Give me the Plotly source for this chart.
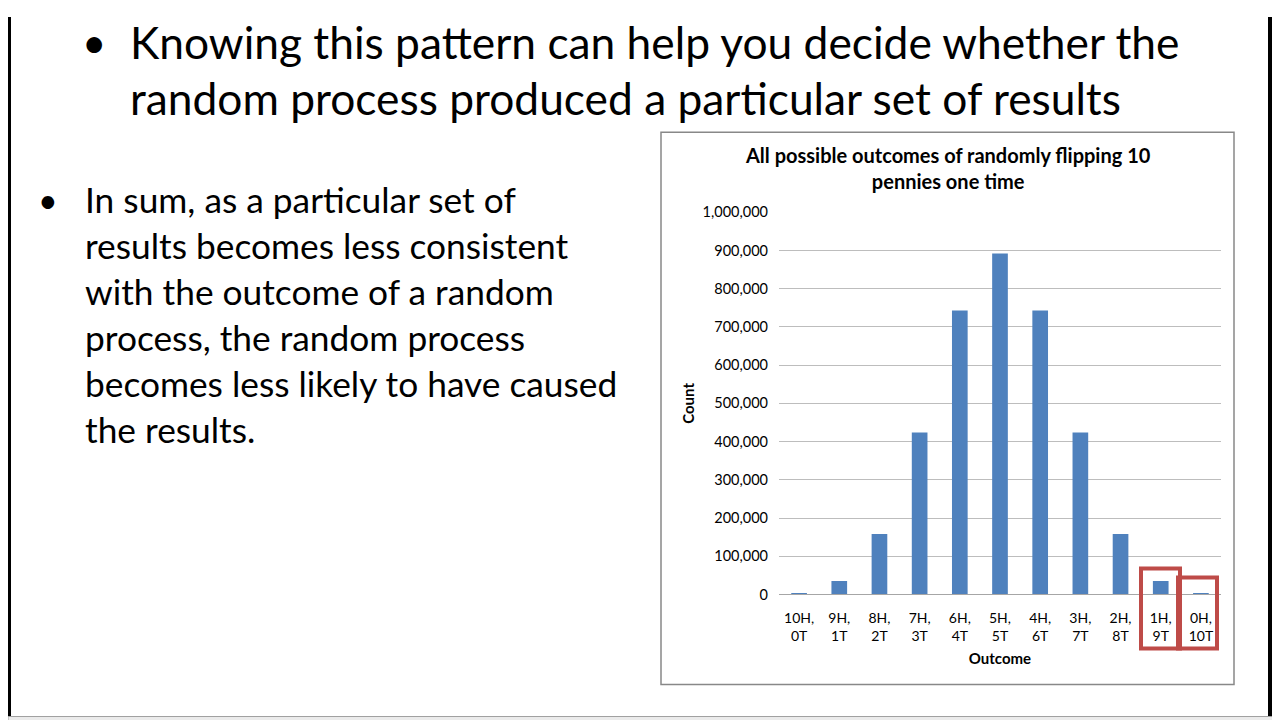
import plotly.graph_objects as go

# chart data
outcomes = ["10H,<br>0T", "9H,<br>1T", "8H,<br>2T", "7H,<br>3T", "6H,<br>4T", "5H,<br>5T",
            "4H,<br>6T", "3H,<br>7T", "2H,<br>8T", "1H,<br>9T", "0H,<br>10T"]
counts = [3500, 35500, 158000, 424000, 743000, 892000, 743000, 424000, 158000, 35500, 3500]
y_ticks = [0, 100000, 200000, 300000, 400000, 500000, 600000, 700000, 800000, 900000, 1000000]

top_lines = ["Knowing this pattern can help you decide whether the",
             "random process produced a particular set of results"]
side_lines = ["In sum, as a particular set of",
              "results becomes less consistent",
              "with the outcome of a random",
              "process, the random process",
              "becomes less likely to have caused",
              "the results."]

# the page keeps an 8px body margin; the screenshot is slightly squashed
# vertically, so slide pixel positions are mapped through px/py below
W, H = 1272, 722
OFF = 8
SY, CY = 0.976, 9.0
FONT = "Lato"


def px(x):
    return (x - OFF) / W


def py(y):
    page = (y - CY) / SY
    return 1 - (page - OFF) / H


fig = go.Figure(
    data=[
        go.Bar(
            x=outcomes,
            y=counts,
            marker=dict(color="#4F81BD", line=dict(width=0)),
            hoverinfo="x+y",
        )
    ]
)

fig.update_layout(
    width=W,
    height=H,
    margin=dict(l=0, r=0, t=0, b=0),
    paper_bgcolor="white",
    plot_bgcolor="white",
    showlegend=False,
    bargap=0.61,
    font=dict(family=FONT, color="#000000"),
    xaxis=dict(
        domain=[px(779), px(1221)],
        tickfont=dict(size=14, color="#000000"),
        ticklabelstandoff=11,
        showgrid=False,
        showline=True,
        linecolor="#A6A6A6",
        linewidth=1,
        ticks="",
        title=dict(text="<b>Outcome</b>", font=dict(size=15), standoff=10),
    ),
    yaxis=dict(
        domain=[py(594), py(212)],
        range=[0, 1000000],
        tickvals=y_ticks,
        tickformat=",d",
        tickfont=dict(size=14.5, color="#000000"),
        ticklabelstandoff=10,
        showgrid=True,
        gridcolor="#BDBDBD",
        gridwidth=1,
        zeroline=False,
        showline=False,
        ticks="",
        title=dict(text="<b>Count</b>", font=dict(size=15), standoff=4),
    ),
)

annotations = []
# chart title
annotations.append(dict(
    x=px(948), y=py(168), xref="paper", yref="paper",
    text="<b>All possible outcomes of randomly flipping 10<br>pennies one time</b>",
    showarrow=False, xanchor="center", yanchor="middle",
    font=dict(family=FONT, size=20, color="#000000"),
))

# top bullet
annotations.append(dict(
    x=px(80), y=py(42), xref="paper", yref="paper", text="•", showarrow=False,
    xanchor="left", yanchor="middle", font=dict(family=FONT, size=42, color="#000000"),
))
for i, line in enumerate(top_lines):
    annotations.append(dict(
        x=px(128), y=py(41 + i * 56), xref="paper", yref="paper", text=line,
        showarrow=False, xanchor="left", yanchor="middle",
        font=dict(family=FONT, size=44.3, color="#000000"),
    ))

# side bullet
annotations.append(dict(
    x=px(36), y=py(199), xref="paper", yref="paper", text="•", showarrow=False,
    xanchor="left", yanchor="middle", font=dict(family=FONT, size=34, color="#000000"),
))
for i, line in enumerate(side_lines):
    annotations.append(dict(
        x=px(83), y=py(199 + i * 46), xref="paper", yref="paper", text=line,
        showarrow=False, xanchor="left", yanchor="middle",
        font=dict(family=FONT, size=35.3, color="#000000"),
    ))

fig.update_layout(annotations=annotations)

shapes = [
    # chart frame
    dict(type="rect", xref="paper", yref="paper", x0=px(661), x1=px(1234), y0=py(684), y1=py(132),
         line=dict(color="#888888", width=1.5), layer="below"),
    # highlight boxes
    dict(type="rect", xref="paper", yref="paper", x0=px(1141), x1=px(1180), y0=py(648), y1=py(568),
         line=dict(color="#BE4B48", width=4)),
    dict(type="rect", xref="paper", yref="paper", x0=px(1178), x1=px(1217), y0=py(648), y1=py(577),
         line=dict(color="#BE4B48", width=4)),
    # slide edges
    dict(type="rect", xref="paper", yref="paper", x0=0, x1=px(11), y0=0, y1=1,
         fillcolor="#000000", line=dict(width=0)),
    dict(type="rect", xref="paper", yref="paper", x0=px(1268), x1=1, y0=0, y1=1,
         fillcolor="#000000", line=dict(width=0)),
    dict(type="rect", xref="paper", yref="paper", x0=0, x1=1, y0=0, y1=py(716),
         fillcolor="#EBEBEB", line=dict(color="#A0A0A0", width=1)),
]
fig.update_layout(shapes=shapes)

fig.write_html("out.html")
